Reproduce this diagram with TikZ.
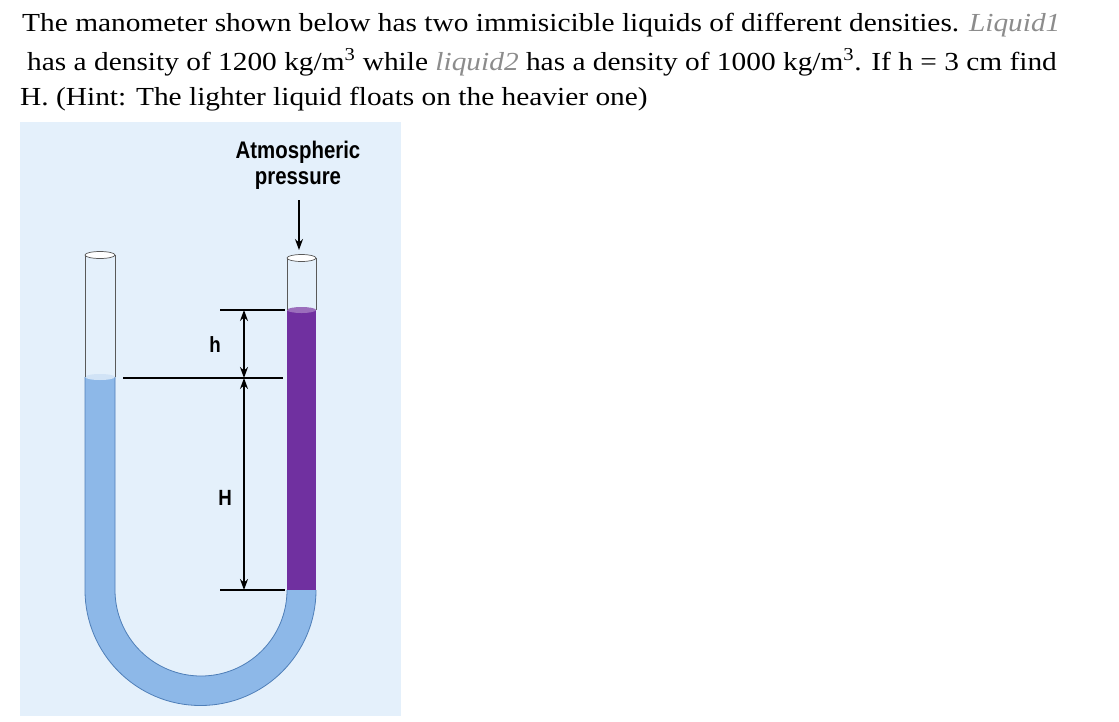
\documentclass[tikz,border=0pt]{standalone}
\usepackage{fontspec}
\setmainfont{Liberation Serif}
\newfontfamily\lsans{Liberation Sans}
\usetikzlibrary{arrows.meta}
\definecolor{panel}{HTML}{E4F0FB}
\definecolor{water}{HTML}{8DB8E8}
\definecolor{waterdk}{HTML}{4F7FB8}
\definecolor{purp}{HTML}{7030A0}
\definecolor{lq}{HTML}{8C8C8C}
\tikzset{txt/.style={anchor=base west,inner sep=0pt,xscale=1.13,font=\fontsize{26}{30}\selectfont},
 lab/.style={font=\lsans\bfseries\fontsize{22}{24}\selectfont,inner sep=0pt,xscale=0.85},
 dim/.style={{Stealth[length=11pt,width=8pt]}-{Stealth[length=11pt,width=8pt]},line width=1.2pt},
 ref/.style={line width=1.2pt}}
\begin{document}
\begin{tikzpicture}[x=1pt,y=-1pt]
\useasboundingbox[fill=white] (0,0) rectangle (1119,721);
\node[txt] (l1) at (22,31) {The manometer shown below has two immisicible liquids of different densities. \textcolor{lq}{\itshape Liquid1}};
\node[txt] (l2) at (27,70) {has a density of 1200 kg/m\textsuperscript{3} while \textcolor{lq}{\itshape liquid2} has a density of 1000 kg/m\textsuperscript{3}. If h = 3 cm find};
\node[txt] (l3) at (20,105) {H. (Hint: The lighter liquid floats on the heavier one)};
\fill[panel] (20,122) rectangle (401,716);
\fill[water] (85,377) -- (85,590) arc[start angle=180,end angle=0,radius=115.5] -- (287,590) arc[start angle=0,end angle=180,radius=86] -- (115,377) -- cycle;
\fill[purp] (287,310) rectangle (316,590);
\fill[white!60!water] (100,377) ellipse[x radius=15,y radius=3];
\fill[purp!70!white] (301.5,310) ellipse[x radius=14.5,y radius=3];
\draw[waterdk,line width=0.8pt] (85,377) -- (85,590) arc[start angle=180,end angle=0,radius=115.5] -- (316,590);
\draw[waterdk,line width=0.8pt] (115,377) -- (115,590) arc[start angle=180,end angle=0,radius=86] -- (287,590);
\draw[gray!70!black,line width=0.7pt] (85,377) -- (85,255) (115,377) -- (115,255) (287,310) -- (287,258) (316,310) -- (316,258);
\draw[gray!70!black,line width=0.7pt,fill=white] (100,255) ellipse[x radius=15,y radius=3.5];
\draw[gray!70!black,line width=0.7pt,fill=white] (301.5,258) ellipse[x radius=14.5,y radius=3.5];
\coordinate (t1) at (220,310); \coordinate (t2) at (285,310);
\coordinate (m1) at (123,378); \coordinate (m2) at (283,378);
\coordinate (b1) at (220,590); \coordinate (b2) at (285,590);
\draw[ref] (t1) -- (t2); \draw[ref] (m1) -- (m2); \draw[ref] (b1) -- (b2);
\coordinate (ht) at (244,310); \coordinate (hm) at (244,378); \coordinate (hb) at (244,590);
\draw[dim] (ht) -- (hm);
\draw[dim] (hm) -- (hb);
\node[lab] (h) at (215,345) {h};
\node[lab] (H) at (225,498) {H};
\node[lab,align=center,font=\lsans\bfseries\fontsize{24}{26}\selectfont] (atm) at (298,165) {Atmospheric\\pressure};
\coordinate (a1) at (299,200); \coordinate (a2) at (299,250);
\draw[-{Stealth[length=11pt,width=8pt]},line width=1.2pt] (a1) -- (a2);
\end{tikzpicture}
\end{document}
